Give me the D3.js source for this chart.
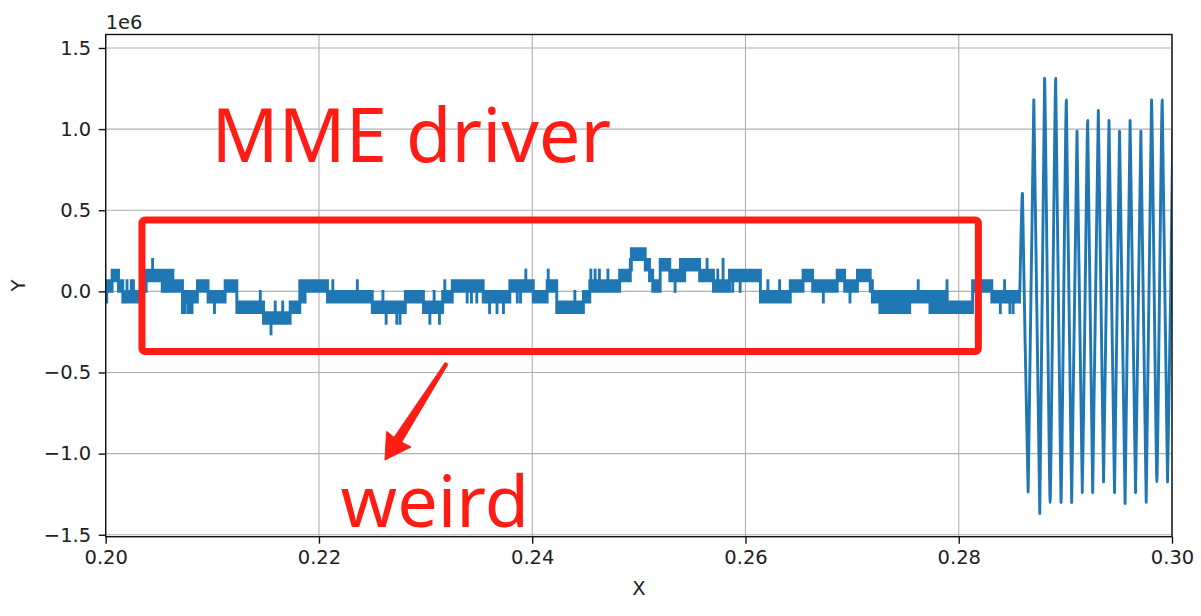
<!DOCTYPE html>
<html>
<head>
<meta charset="utf-8">
<script src="https://cdn.jsdelivr.net/npm/d3@7/dist/d3.min.js"></script>
<style>
  html, body { margin: 0; padding: 0; background: #ffffff; }
  svg { display: block; }
</style>
</head>
<body>
<svg id="chart" width="1201" height="616"></svg>
<script>
// ---------------- data ----------------
const xTicks = [0.20, 0.22, 0.24, 0.26, 0.28, 0.30];
const xTickLabels = ["0.20", "0.22", "0.24", "0.26", "0.28", "0.30"];
const yTicks = [-1.5e6, -1.0e6, -0.5e6, 0, 0.5e6, 1.0e6, 1.5e6];
const yTickLabels = ["\u22121.5", "\u22121.0", "\u22120.5", "0.0", "0.5", "1.0", "1.5"];
const xDomain = [0.20, 0.30];
const yDomain = [-1.512e6, 1.583e6];

// quantisation step of the noisy part (values are in multiples of it)
const LEVEL = 65536;

// noisy section: band of rapid toggling between two levels, per segment
const bandStart = [0.2000, 0.2001, 0.2006, 0.2012, 0.2016, 0.2033, 0.2037, 0.2053, 0.2063, 0.2072,
                   0.2074, 0.2077, 0.2081, 0.2086, 0.2096, 0.2112, 0.2123, 0.2148, 0.2173, 0.2182,
                   0.2187, 0.2208, 0.2250, 0.2281, 0.2298, 0.2316, 0.2325, 0.2354, 0.2379, 0.2401,
                   0.2414, 0.2423, 0.2448, 0.2454, 0.2482, 0.2492, 0.2493, 0.2506, 0.2510, 0.2513,
                   0.2520, 0.2529, 0.2539, 0.2543, 0.2557, 0.2570, 0.2585, 0.2614, 0.2642, 0.2654,
                   0.2663, 0.2686, 0.2693, 0.2705, 0.2717, 0.2719, 0.2726, 0.2754, 0.2773, 0.2789,
                   0.2813, 0.2831];
const bandLo =    [-1, 0, 1, 0, -1, 0, 1, 0, 0, -2,
                   -1, -2, -1, 0, -1, 0, -2, -3, -2, -1,
                   0, -1, -2, -1, -2, -1, 0, -1, 0, -1,
                   0, -2, -1, 0, 1, 2, 3, 2, 1, 0,
                   2, 1, 1, 2, 1, 0, 1, -1, 0, 1,
                   0, 1, 0, 1, 0, -1, -2, -1, -2, -2,
                   0, -1];
const bandHi =    [0, 1, 2, 1, 0, 1, 2, 2, 1, 0,
                   0, 0, 0, 1, 0, 1, -1, -2, -1, 1,
                   1, 0, -1, 0, -1, 0, 1, 0, 1, 0,
                   1, -1, 0, 1, 2, 3, 4, 3, 2, 1,
                   3, 2, 3, 3, 2, 1, 2, 0, 1, 2,
                   1, 2, 1, 2, 1, 0, 0, 0, 0, -1,
                   1, 0];
const noiseEnd = 0.2857;

// isolated single-sample excursions (x, level)
const spikeX =     [0.2020, 0.2024, 0.2026, 0.2038, 0.2044, 0.2056, 0.2102, 0.2145, 0.2155, 0.2159,
                    0.2166, 0.2213, 0.2236, 0.2260, 0.2263, 0.2273, 0.2276, 0.2304, 0.2308, 0.2313,
                    0.2318, 0.2339, 0.2343, 0.2348, 0.2360, 0.2367, 0.2373, 0.2386, 0.2389, 0.2394,
                    0.2415, 0.2440, 0.2455, 0.2459, 0.2463, 0.2471, 0.2534, 0.2564, 0.2574, 0.2579,
                    0.2588, 0.2595, 0.2621, 0.2632, 0.2673, 0.2698, 0.2762, 0.2789, 0.2839, 0.2843,
                    0.2848, 0.2851];
const spikeLevel = [1, 1, 1, 0, 3, 0, -2, 0, -4, -1,
                    -1, 1, 1, 0, -3, -3, -3, -3, 0, -3,
                    1, -1, -1, -1, -2, -2, -2, -1, -1, 2,
                    2, 0, 2, 2, 2, 2, 0, 3, 2, 3,
                    0, 0, 1, 1, -1, -1, 1, 1, -2, 1,
                    -2, -2];

// tone section: successive extremes of the waveform
const toneX = [0.28573, 0.28598, 0.28651, 0.28704, 0.28760, 0.28805, 0.28857, 0.28909, 0.28959, 0.29009,
               0.29059, 0.29109, 0.29159, 0.29209, 0.29256, 0.29309, 0.29358, 0.29409, 0.29461, 0.29508,
               0.29560, 0.29607, 0.29658, 0.29708, 0.29758, 0.29808, 0.29858, 0.29908, 0.29958, 0.30008];
const toneY = [0, 0.597e6, -1.236e6, 1.180e6, -1.369e6, 1.313e6, -1.301e6, 1.313e6, -1.301e6, 1.180e6,
               -1.301e6, 0.987e6, -1.240e6, 1.053e6, -1.240e6, 1.115e6, -1.174e6, 1.053e6, -1.240e6, 0.987e6,
               -1.307e6, 1.053e6, -1.240e6, 0.987e6, -1.300e6, 1.180e6, -1.174e6, 1.180e6, -1.174e6, 1.000e6];

// annotations (data coordinates)
const annoBox = {x0: 0.20340, x1: 0.28184, y0: -0.3706e6, y1: 0.4398e6};
const annoTitle = {text: "MME driver", x: 0.20992, y: 0.799e6};
const annoNote = {text: "weird", x: 0.22203, y: -1.4504e6};
const annoArrow = {x0: 0.23197, y0: -0.4434e6, x1: 0.22619, y1: -1.0393e6};

// ---------------- drawing ----------------
const W = 1201, H = 616;
const plot = {left: 105.7, right: 1172, top: 34.5, bottom: 536.7};
const BLUE = "#1f77b4", RED = "#ff1c14";
const AXIS_FONT = "'DejaVu Sans', sans-serif";

const svg = d3.select("#chart");
const x = d3.scaleLinear().domain(xDomain).range([plot.left, plot.right]);
const y = d3.scaleLinear().domain(yDomain).range([plot.bottom, plot.top]);

svg.append("defs").append("clipPath").attr("id", "clip")
  .append("rect")
  .attr("x", plot.left).attr("y", plot.top)
  .attr("width", plot.right - plot.left).attr("height", plot.bottom - plot.top);

// grid
const grid = svg.append("g").attr("stroke", "#b0b0b0").attr("stroke-width", 1.1);
grid.selectAll("line.gx").data(xTicks).join("line")
  .attr("x1", d => x(d)).attr("x2", d => x(d))
  .attr("y1", plot.top).attr("y2", plot.bottom);
grid.selectAll("line.gy").data(yTicks).join("line")
  .attr("x1", plot.left).attr("x2", plot.right)
  .attr("y1", d => y(d)).attr("y2", d => y(d));

// data
const dataG = svg.append("g").attr("clip-path", "url(#clip)");

const bandData = bandStart.map((s, i) => ({x: s, lo: bandLo[i], hi: bandHi[i]}));
bandData.push({x: noiseEnd, lo: bandLo[bandLo.length - 1], hi: bandHi[bandHi.length - 1]});

const bandArea = d3.area()
  .x(d => x(d.x))
  .y0(d => y(d.lo * LEVEL))
  .y1(d => y(d.hi * LEVEL))
  .curve(d3.curveStepAfter);

dataG.append("path")
  .datum(bandData)
  .attr("d", bandArea)
  .attr("fill", BLUE)
  .attr("stroke", BLUE)
  .attr("stroke-width", 2.9)
  .attr("stroke-linejoin", "miter");

const spikes = spikeX.map((sx, i) => {
  const k = Math.max(0, d3.bisectRight(bandStart, sx) - 1);
  return {x: sx, base: (bandLo[k] + bandHi[k]) / 2, level: spikeLevel[i]};
});
dataG.selectAll("line.spike").data(spikes).join("line")
  .attr("class", "spike")
  .attr("x1", d => x(d.x)).attr("x2", d => x(d.x))
  .attr("y1", d => y(d.base * LEVEL)).attr("y2", d => y(d.level * LEVEL))
  .attr("stroke", BLUE).attr("stroke-width", 2.9).attr("stroke-linecap", "square");

const toneData = toneX.map((tx, i) => ({x: tx, v: toneY[i]}));
dataG.append("path")
  .datum(toneData)
  .attr("d", d3.line().x(d => x(d.x)).y(d => y(d.v)).curve(d3.curveCardinal.tension(0.6)))
  .attr("fill", "none")
  .attr("stroke", BLUE)
  .attr("stroke-width", 2.9)
  .attr("stroke-linejoin", "round");

// spines
svg.append("rect")
  .attr("x", plot.left).attr("y", plot.top)
  .attr("width", plot.right - plot.left).attr("height", plot.bottom - plot.top)
  .attr("fill", "none").attr("stroke", "#111").attr("stroke-width", 1.4);

// x axis
const xAxis = d3.axisBottom(x).tickValues(xTicks)
  .tickFormat((d, i) => xTickLabels[i]).tickSize(7).tickPadding(6.5);
const gx = svg.append("g").attr("transform", `translate(0,${plot.bottom})`).call(xAxis);
gx.select(".domain").remove();
gx.selectAll(".tick line").attr("stroke", "#111").attr("stroke-width", 1.4);
gx.selectAll(".tick text").attr("font-family", AXIS_FONT).attr("font-size", 19.5).attr("fill", "#222");

// y axis
const yAxis = d3.axisLeft(y).tickValues(yTicks)
  .tickFormat((d, i) => yTickLabels[i]).tickSize(7).tickPadding(7.5);
const gy = svg.append("g").attr("transform", `translate(${plot.left},0)`).call(yAxis);
gy.select(".domain").remove();
gy.selectAll(".tick line").attr("stroke", "#111").attr("stroke-width", 1.4);
gy.selectAll(".tick text").attr("font-family", AXIS_FONT).attr("font-size", 19.5).attr("fill", "#222");

// offset text, axis labels
svg.append("text").attr("x", plot.left).attr("y", 28.5)
  .attr("font-family", AXIS_FONT).attr("font-size", 19.5).attr("fill", "#222").text("1e6");
svg.append("text").attr("x", (plot.left + plot.right) / 2).attr("y", 595)
  .attr("text-anchor", "middle")
  .attr("font-family", AXIS_FONT).attr("font-size", 19.5).attr("fill", "#222").text("X");
svg.append("text")
  .attr("transform", `translate(24.5,${(plot.top + plot.bottom) / 2}) rotate(-90)`)
  .attr("text-anchor", "middle")
  .attr("font-family", AXIS_FONT).attr("font-size", 19.5).attr("fill", "#222").text("Y");

// annotations
const anno = svg.append("g");
anno.append("rect")
  .attr("x", x(annoBox.x0)).attr("y", y(annoBox.y1))
  .attr("width", x(annoBox.x1) - x(annoBox.x0))
  .attr("height", y(annoBox.y0) - y(annoBox.y1))
  .attr("rx", 3).attr("ry", 3)
  .attr("fill", "none").attr("stroke", RED).attr("stroke-width", 7);

anno.append("text")
  .attr("x", x(annoTitle.x)).attr("y", y(annoTitle.y))
  .attr("font-family", "'Noto Sans', 'Open Sans', sans-serif")
  .attr("font-size", 74).attr("fill", RED).text(annoTitle.text);

anno.append("text")
  .attr("x", x(annoNote.x)).attr("y", y(annoNote.y))
  .attr("font-family", "'Noto Sans', 'Open Sans', sans-serif")
  .attr("font-size", 72).attr("fill", RED).text(annoNote.text);

// arrow as a tapered filled shape from tail to tip
(function () {
  const tx = x(annoArrow.x0), ty = y(annoArrow.y0);
  const hx = x(annoArrow.x1), hy = y(annoArrow.y1);
  const len = Math.hypot(hx - tx, hy - ty);
  const ux = (hx - tx) / len, uy = (hy - ty) / len;
  const nx = uy, ny = -ux;
  const P = (a, b) => [tx + ux * a + nx * b, ty + uy * a + ny * b];
  const headBase = len - 25;
  const pts = [P(0, -1.6), P(0, 1.6), P(headBase + 1, 4.5), P(headBase, 15), P(len, 0),
               P(headBase, -14), P(headBase + 1, -4.5)];
  anno.append("path")
    .attr("d", "M" + pts.map(p => p.join(",")).join("L") + "Z")
    .attr("fill", RED).attr("stroke", RED).attr("stroke-width", 1).attr("stroke-linejoin", "round");
})();
</script>
</body>
</html>
